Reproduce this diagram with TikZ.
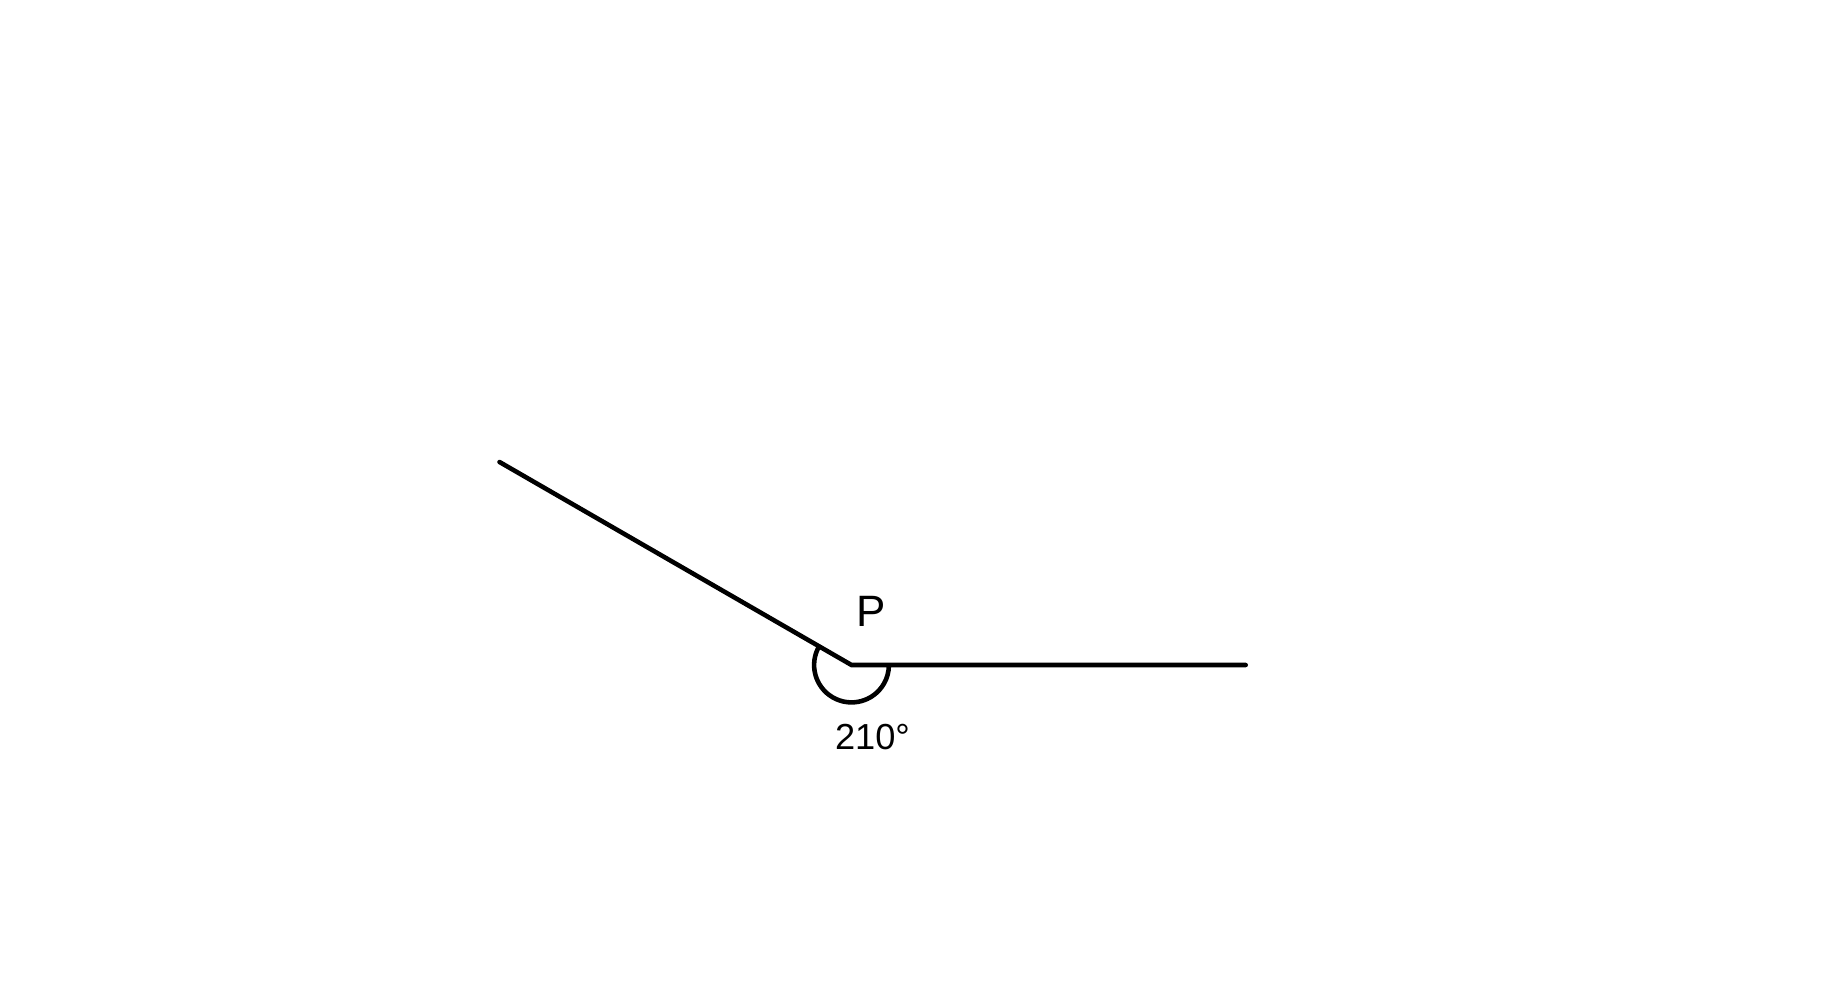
\documentclass[tikz,border=0pt]{standalone}
\usepackage{fontspec}
\setmainfont{Liberation Sans}

\begin{document}
\begin{tikzpicture}

\useasboundingbox (0,0) rectangle (18.34,10.04);

\tikzstyle{every path}=[line width=1.3pt];

% The vertex and the two arm ends
\coordinate (p) at (8.515,3.39);
\coordinate (a) at (4.995,5.42);
\coordinate (b) at (12.457,3.39);

% Draw the two arms of the angle
\draw[line cap=round] (a) -- (p) -- (b);

% Mark the reflex angle
\draw (p) ++(150:0.374) arc (150:360:0.374);

% Labels
\node[font=\fontsize{12.5}{14}\selectfont,anchor=base] (lp) at (8.71,3.773) {P};
\node[font=\fontsize{10.3}{12}\selectfont,anchor=base] (la) at (8.725,2.55) {210°};

\end{tikzpicture}
\end{document}
